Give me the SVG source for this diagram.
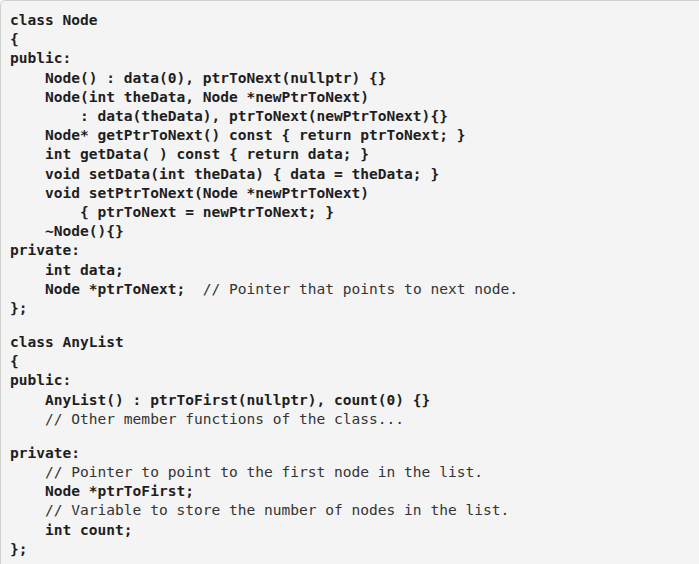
<svg xmlns="http://www.w3.org/2000/svg" width="699" height="564" viewBox="0 0 699 564">
<style>
.bg{fill:#f4f4f4;stroke:#cfcfcf;stroke-width:1}
text{font-family:"DejaVu Sans Mono","Liberation Mono",monospace;font-size:14.55px;fill:#1e1e1e;white-space:pre}
.c{font-weight:bold}
.m{font-weight:normal;fill:#333}
</style>
<rect class="bg" x="0.5" y="0.5" width="710" height="580" rx="4"/>
<g id="code" xml:space="preserve">
<text class="c" x="10" y="25">class Node</text>
<text class="c" x="10" y="44.2">{</text>
<text class="c" x="10" y="63.4">public:</text>
<text class="c" x="10" y="82.6">    Node() : data(0), ptrToNext(nullptr) {}</text>
<text class="c" x="10" y="101.8">    Node(int theData, Node *newPtrToNext)</text>
<text class="c" x="10" y="121">        : data(theData), ptrToNext(newPtrToNext){}</text>
<text class="c" x="10" y="140.2">    Node* getPtrToNext() const { return ptrToNext; }</text>
<text class="c" x="10" y="159.4">    int getData( ) const { return data; }</text>
<text class="c" x="10" y="178.6">    void setData(int theData) { data = theData; }</text>
<text class="c" x="10" y="197.8">    void setPtrToNext(Node *newPtrToNext)</text>
<text class="c" x="10" y="217">        { ptrToNext = newPtrToNext; }</text>
<text class="c" x="10" y="236.2">    ~Node(){}</text>
<text class="c" x="10" y="255.4">private:</text>
<text class="c" x="10" y="274.6">    int data;</text>
<text x="10" y="293.8"><tspan class="c">    Node *ptrToNext;</tspan><tspan class="m">  // Pointer that points to next node.</tspan></text>
<text class="c" x="10" y="313">};</text>
<text class="c" x="10" y="347">class AnyList</text>
<text class="c" x="10" y="366.2">{</text>
<text class="c" x="10" y="385.4">public:</text>
<text class="c" x="10" y="404.6">    AnyList() : ptrToFirst(nullptr), count(0) {}</text>
<text class="m" x="10" y="423.8">    // Other member functions of the class...</text>
<text class="c" x="10" y="457.8">private:</text>
<text class="m" x="10" y="477">    // Pointer to point to the first node in the list.</text>
<text class="c" x="10" y="496.2">    Node *ptrToFirst;</text>
<text class="m" x="10" y="515.4">    // Variable to store the number of nodes in the list.</text>
<text class="c" x="10" y="534.6">    int count;</text>
<text class="c" x="10" y="553.8">};</text>
</g>
</svg>
